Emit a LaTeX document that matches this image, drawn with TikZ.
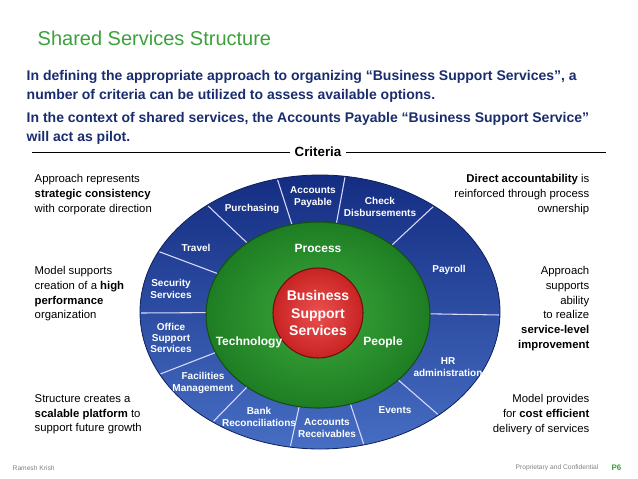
\documentclass[tikz,border=0pt]{standalone}
\usepackage{fontspec}
\setmainfont{Liberation Sans}
\begin{document}
\begin{tikzpicture}[x=0.75pt,y=-0.75pt,
  seg/.style={font=\bfseries\fontsize{7.5}{8.5}\selectfont,text=white,align=center},
  mid/.style={font=\bfseries\fontsize{9}{10}\selectfont,text=white,align=center},
  side/.style={font=\fontsize{8.5}{11}\selectfont,align=left,anchor=north west},
  sider/.style={font=\fontsize{8.5}{11}\selectfont,align=right,anchor=north east},
  divl/.style={draw=white!85!blue,line width=0.8pt}]
\definecolor{ttl}{RGB}{60,160,60}
\definecolor{navy}{RGB}{25,45,110}
\useasboundingbox (0,0) rectangle (638,478);
\node[anchor=west,text=ttl,font=\fontsize{15}{18}\selectfont] (title) at (33,38) {Shared Services Structure};
\node[anchor=north west,text=navy,font=\bfseries\fontsize{10.5}{14}\selectfont,align=left] (p1) at (22,66) {In defining the appropriate approach to organizing “Business Support Services”, a\\number of criteria can be utilized to assess available options.};
\node[anchor=north west,text=navy,font=\bfseries\fontsize{10.5}{14}\selectfont,align=left] (p2) at (22,108) {In the context of shared services, the Accounts Payable “Business Support Service”\\will act as pilot.};
\node[font=\bfseries\fontsize{10}{12}\selectfont] (crit) at (318,152) {Criteria};
\coordinate (cl) at (32,152); \coordinate (cr) at (606,152);
\draw[line width=0.6pt] (cl) -- (crit.west) (crit.east) -- (cr);
% outer ellipse
\shade[top color={rgb,255:red,20;green,45;blue,130},bottom color={rgb,255:red,70;green,110;blue,195}] (320,312) ellipse [x radius=180,y radius=137];
\coordinate (c) at (320,312);
\begin{scope}
\clip (320,312) ellipse [x radius=179,y radius=136];
\foreach \p in {(277,178),(345,177),(435,205),(500,315),(442,418),(365,448),(290,448),(208,427),(150,378),(140,313),(152,249),(205,203)}
  \draw[divl] (c) -- \p;
\end{scope}
\draw[draw={rgb,255:red,15;green,30;blue,90},line width=0.6pt] (320,312) ellipse [x radius=180,y radius=137];
\shade[inner color={rgb,255:red,60;green,170;blue,60},outer color={rgb,255:red,30;green,125;blue,35},draw={rgb,255:red,20;green,80;blue,20},line width=0.8pt] (318,315) ellipse [x radius=112,y radius=93];
\shade[inner color={rgb,255:red,235;green,80;blue,80},outer color={rgb,255:red,200;green,35;blue,35},draw={rgb,255:red,110;green,15;blue,15},line width=0.8pt] (318,313) circle [radius=45];
\node[seg] (ap) at (313,197) {Accounts\\Payable};
\node[seg] (cd) at (380,207) {Check\\Disbursements};
\node[seg] (pu) at (252,209) {Purchasing};
\node[seg] (tr) at (196,248) {Travel};
\node[seg] (pa) at (449,270) {Payroll};
\node[seg] (ss) at (171,289) {Security\\Services};
\node[seg] (os) at (171,338) {Office\\Support\\Services};
\node[seg] (fm) at (203,383) {Facilities\\Management};
\node[seg] (hr) at (448,367) {HR\\administration};
\node[seg] (ev) at (395,410) {Events};
\node[seg] (br) at (259,417) {Bank\\Reconciliations};
\node[seg] (ar) at (327,428) {Accounts\\Receivables};
\node[mid] (pr) at (318,248) {Process};
\node[mid] (te) at (249,342) {Technology};
\node[mid] (pe) at (383,342) {People};
\node[font=\bfseries\fontsize{10.5}{13}\selectfont,text=white,align=center] (bss) at (318,313) {Business\\Support\\Services};
% side texts
\node[side] (l1) at (30,170) {Approach represents\\\textbf{strategic consistency}\\with corporate direction};
\node[side] (l2) at (30,262) {Model supports\\creation of a \textbf{high}\\\textbf{performance}\\organization};
\node[side] (l3) at (30,390) {Structure creates a\\\textbf{scalable platform} to\\support future growth};
\node[sider] (r1) at (594,170) {\textbf{Direct accountability} is\\reinforced through process\\ownership};
\node[sider] (r2) at (594,262) {Approach\\supports\\ability\\to realize\\\textbf{service-level}\\\textbf{improvement}};
\node[sider] (r3) at (594,390) {Model provides\\for \textbf{cost efficient}\\delivery of services};
\node[anchor=west,text=gray,font=\fontsize{5}{6}\selectfont] (f1) at (8,468) {Ramesh Krish};
\node[anchor=east,text=gray,font=\fontsize{5}{6}\selectfont] (f2) at (603,468) {Proprietary and Confidential};
\node[anchor=east,text=ttl,font=\bfseries\fontsize{6}{7}\selectfont] (f3) at (626,468) {P6};
\end{tikzpicture}
\end{document}
